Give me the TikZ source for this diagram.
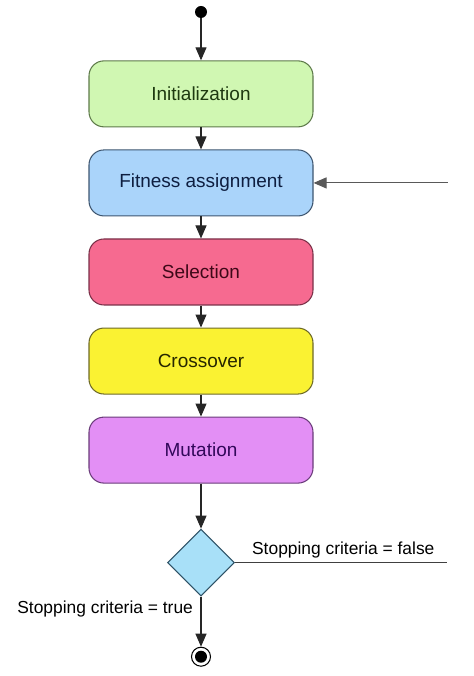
\documentclass[tikz,border=0pt]{standalone}
\usepackage{fontspec}
\setmainfont{Liberation Sans}
\usetikzlibrary{positioning,shapes.geometric,arrows.meta}

\definecolor{initfill}{HTML}{D0F7B2}
\definecolor{initdraw}{HTML}{5E7A4A}
\definecolor{inittext}{HTML}{1E3A10}
\definecolor{fitfill}{HTML}{AAD4FA}
\definecolor{fitdraw}{HTML}{3E5670}
\definecolor{fittext}{HTML}{0E1E40}
\definecolor{selfill}{HTML}{F66A90}
\definecolor{seldraw}{HTML}{7A3048}
\definecolor{seltext}{HTML}{3E0818}
\definecolor{crossfill}{HTML}{FAF232}
\definecolor{crossdraw}{HTML}{6E6A28}
\definecolor{crosstext}{HTML}{262600}
\definecolor{mutfill}{HTML}{E38FF5}
\definecolor{mutdraw}{HTML}{6A3C7A}
\definecolor{muttext}{HTML}{32085A}
\definecolor{decfill}{HTML}{A8E0F8}
\definecolor{decdraw}{HTML}{2E5266}

\begin{document}
\begin{tikzpicture}[
  box/.style={draw, rounded corners=0.3cm, minimum width=4.48cm, minimum height=1.32cm,
    line width=0.6pt, font=\fontsize{10.8}{12}\selectfont},
  flow/.style={-{Triangle[length=0.26cm,width=0.22cm]}, line width=0.6pt, black!85},
  lbl/.style={font=\fontsize{9.9}{12}\selectfont, inner sep=1pt}
]
  \useasboundingbox (-4.02,0.24) rectangle (5.46,-13.28);

  % Steps of the algorithm
  \node[circle, fill=black, minimum size=0.24cm, inner sep=0] (start) at (0,0) {};
  \node[box, fill=initfill, draw=initdraw, text=inittext, below=0.84cm of start] (init) {Initialization};
  \node[box, fill=fitfill, draw=fitdraw, text=fittext, below=0.44cm of init] (fit) {Fitness assignment};
  \node[box, fill=selfill, draw=seldraw, text=seltext, below=0.44cm of fit] (sel) {Selection};
  \node[box, fill=crossfill, draw=crossdraw, text=crosstext, below=0.44cm of sel] (cross) {Crossover};
  \node[box, fill=mutfill, draw=mutdraw, text=muttext, below=0.44cm of cross] (mut) {Mutation};

  % Decision and end
  \node[diamond, aspect=1, inner sep=0, minimum size=1.34cm, fill=decfill, draw=decdraw,
    line width=0.6pt, below=0.9cm of mut] (dec) {};
  \node[circle, draw, fill=white, line width=0.6pt, minimum size=0.38cm, inner sep=0,
    below=1.0cm of dec] (stop) {};
  \fill (stop.center) circle (0.12cm);

  \draw[flow] (start) -- (init);
  \draw[flow] (init) -- (fit);
  \draw[flow] (fit) -- (sel);
  \draw[flow] (sel) -- (cross);
  \draw[flow] (cross) -- (mut);
  \draw[flow] (mut) -- (dec);
  \draw[flow] (dec) -- (stop);

  % Loop back (cut at the right edge)
  \coordinate (loopout) at ([xshift=4.24cm]dec.east);
  \coordinate (loopin) at ([xshift=2.68cm]fit.east);
  \draw[line width=0.6pt, black!75] (dec.east) -- (loopout);
  \draw[flow, black!65] (loopin) -- (fit.east);

  \node[lbl, anchor=south west] (falselbl) at ([xshift=0.3cm,yshift=0.05cm]dec.east) {Stopping criteria = false};
  \node[lbl, anchor=north east] (truelbl) at ([xshift=-0.12cm,yshift=-0.05cm]dec.south) {Stopping criteria = true};

\end{tikzpicture}
\end{document}
